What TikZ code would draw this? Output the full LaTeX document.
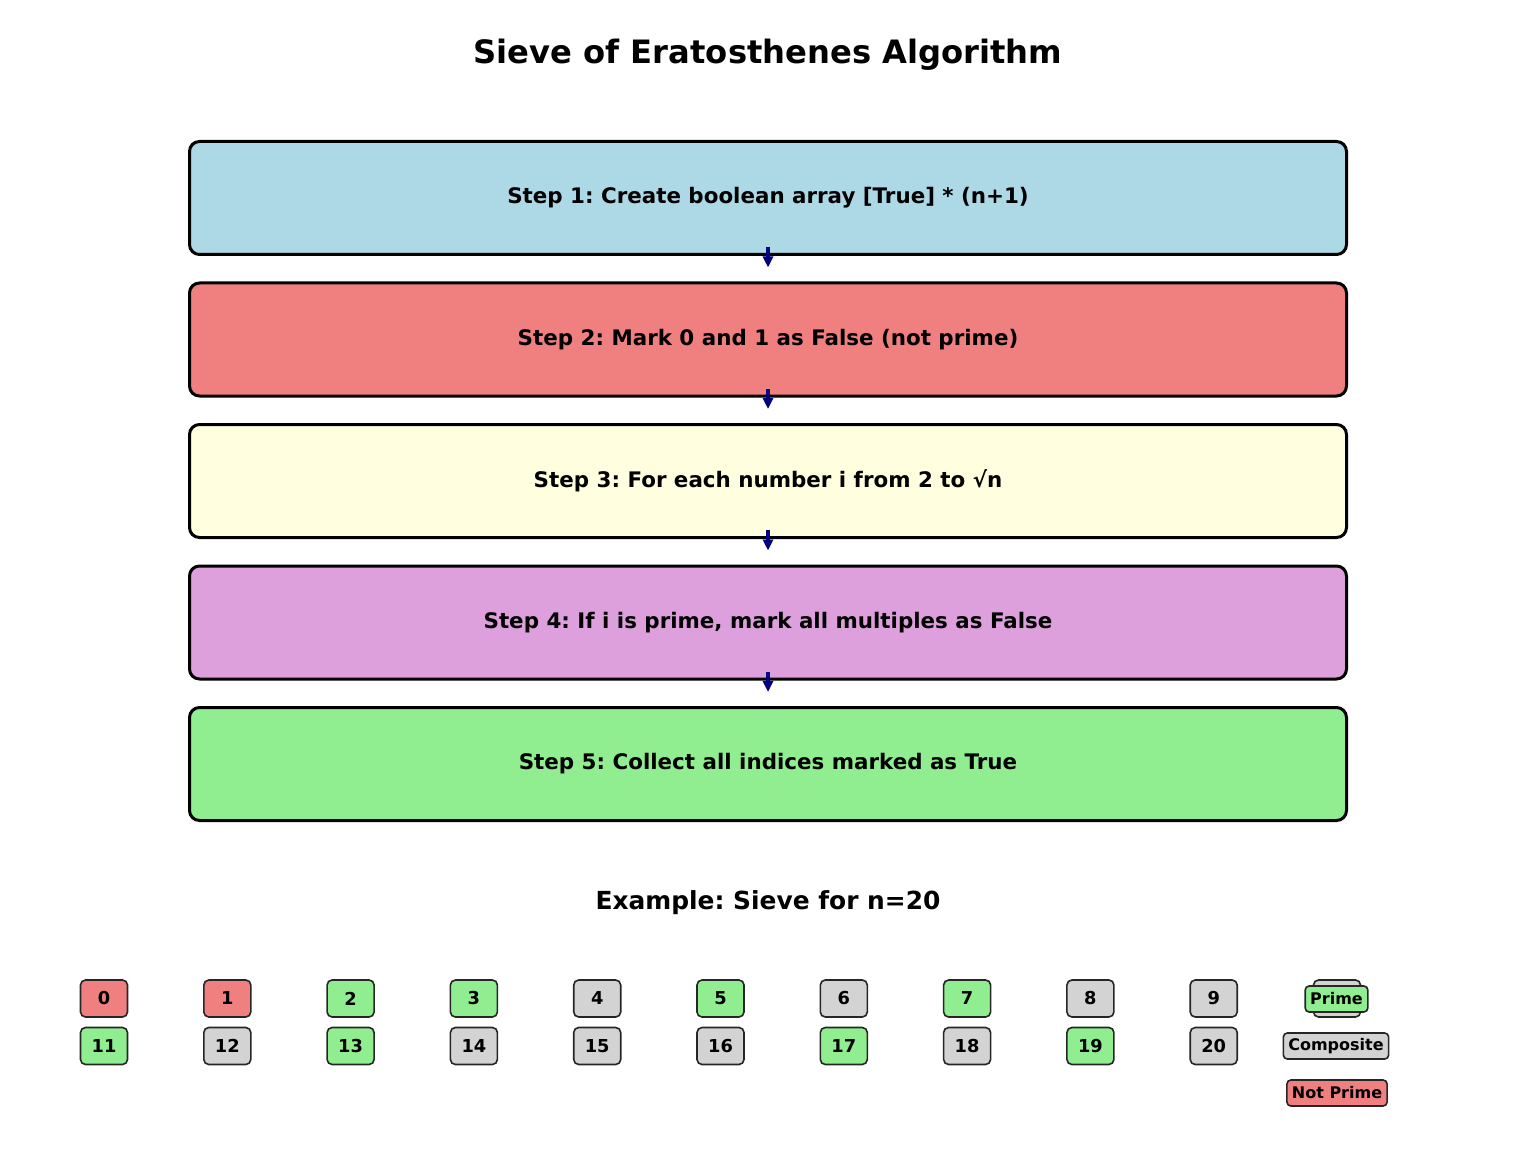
\documentclass[tikz,border=0pt]{standalone}
\usepackage{fontspec}
\setmainfont{DejaVu Sans}
\usetikzlibrary{arrows.meta}
\definecolor{cblue}{RGB}{173,216,230}
\definecolor{ccoral}{RGB}{240,128,128}
\definecolor{cyellow}{RGB}{255,255,224}
\definecolor{cplum}{RGB}{221,160,221}
\definecolor{cgreen}{RGB}{144,238,144}
\definecolor{cgray}{RGB}{211,211,211}
\definecolor{cnavy}{RGB}{0,0,128}
\frenchspacing
\tikzset{
  stepbox/.style={draw=black, line width=3pt, rounded corners=10pt, minimum width=1157pt, minimum height=113pt, inner sep=0pt, font=\fontsize{21.4}{25}\selectfont\bfseries},
  cell/.style={draw=black!85, line width=1.6pt, rounded corners=5pt, minimum width=47pt, minimum height=37pt, inner sep=0pt, font=\fontsize{17.8}{21}\selectfont\bfseries},
  legbox/.style={draw=black!85, line width=1.6pt, rounded corners=4pt, minimum height=26pt, inner xsep=5pt, inner ysep=0pt, font=\fontsize{16}{19}\selectfont\bfseries},
  arr/.style={draw=cnavy, line width=3.4pt, -{Triangle[length=11pt,width=10pt]}},
}
\begin{document}
\begin{tikzpicture}[x=1pt,y=-1pt]
\useasboundingbox[fill=white] (0,0) rectangle (1536,1150);
\node[font=\fontsize{32.2}{38}\selectfont\bfseries] (title) at (768,55) {Sieve of Eratosthenes Algorithm};
\node[stepbox, fill=cblue] (s1) at (768,198) {Step 1: Create boolean array [True] * (n+1)};
\node[stepbox, fill=ccoral] (s2) at (768,339.5) {Step 2: Mark 0 and 1 as False (not prime)};
\node[stepbox, fill=cyellow] (s3) at (768,481) {Step 3: For each number i from 2 to √n};
\node[stepbox, fill=cplum] (s4) at (768,622.5) {Step 4: If i is prime, mark all multiples as False};
\node[stepbox, fill=cgreen] (s5) at (768,764) {Step 5: Collect all indices marked as True};
\foreach \a/\b in {s1/s2,s2/s3,s3/s4,s4/s5}
  \draw[arr, shorten <=-9pt, shorten >=14pt] (\a.south) -- (\b.north);
\node[font=\fontsize{24.9}{29}\selectfont\bfseries] (ex) at (768,903) {Example: Sieve for n=20};
% row 1
\foreach \n/\c in {0/ccoral,1/ccoral,2/cgreen,3/cgreen,4/cgray,5/cgreen,6/cgray,7/cgreen,8/cgray,9/cgray}
  \node[cell, fill=\c] (c\n) at ({104+123.3*\n},998.5) {\n};
\node[cell, fill=cgray] (c10) at ({104+123.3*10},998.5) {};
% row 2
\foreach \n/\c in {11/cgreen,12/cgray,13/cgreen,14/cgray,15/cgray,16/cgray,17/cgreen,18/cgray,19/cgreen,20/cgray}
  \node[cell, fill=\c] (c\n) at ({104+123.3*(\n-11)},1046) {\n};
% legend
\node[legbox, fill=cgreen] (lp) at (1336.5,999) {Prime};
\node[legbox, fill=cgray] (lc) at (1336,1046) {Composite};
\node[legbox, fill=ccoral] (ln) at (1337,1093) {Not Prime};
\end{tikzpicture}
\end{document}
